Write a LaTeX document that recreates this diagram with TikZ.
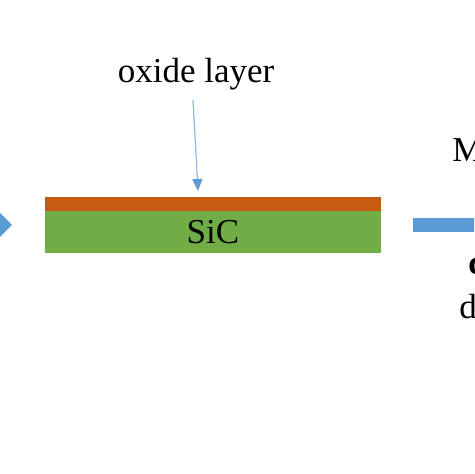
\documentclass[tikz,border=0pt]{standalone}
\usepackage{fontspec}
\setmainfont{Liberation Serif}
\usetikzlibrary{arrows.meta}
\definecolor{arrowblue}{HTML}{5B9BD5}
\definecolor{lineblue}{HTML}{8FB8E0}
\definecolor{oxideorange}{HTML}{C55A11}
\definecolor{sicgreen}{HTML}{70AD47}

\begin{document}
\begin{tikzpicture}[line cap=round,line join=round,x=0.5pt,y=-0.5pt,
  lbl/.style={inner sep=0pt,font=\fontsize{17.5}{20}\selectfont},
  layer/.style={inner sep=0pt,minimum width=168pt}]
\clip (0,0) rectangle (474,474);
\fill[white] (0,0) rectangle (474,474);

%schicht
\node[layer,fill=oxideorange,minimum height=7pt] (oxide) at (213,204) {};
\node[layer,fill=sicgreen,minimum height=21pt,lbl] (sic) at (213,232) {SiC};

%beschriftung
\node[lbl,anchor=base] (oxlabel) at (196,83) {oxide layer};
\coordinate (oxstart) at (193,100);
\coordinate (oxend) at (198,191);
\draw[lineblue,line width=0.6pt,-{Triangle[width=5pt,length=6pt,color=arrowblue]}] (oxstart) -- (oxend);

%pfeile links und rechts
\fill[arrowblue] (-4,209) -- (12,225) -- (-4,241) -- cycle;
\fill[arrowblue] (413,218) rectangle (480,232);

%text rechts
\node[lbl,anchor=base west] (mtext) at (452,162) {M};
\node[lbl,anchor=base west] (ctext) at (468,275) {\bfseries c};
\node[lbl,anchor=base west] (dtext) at (459,318) {d};
\end{tikzpicture}
\end{document}
